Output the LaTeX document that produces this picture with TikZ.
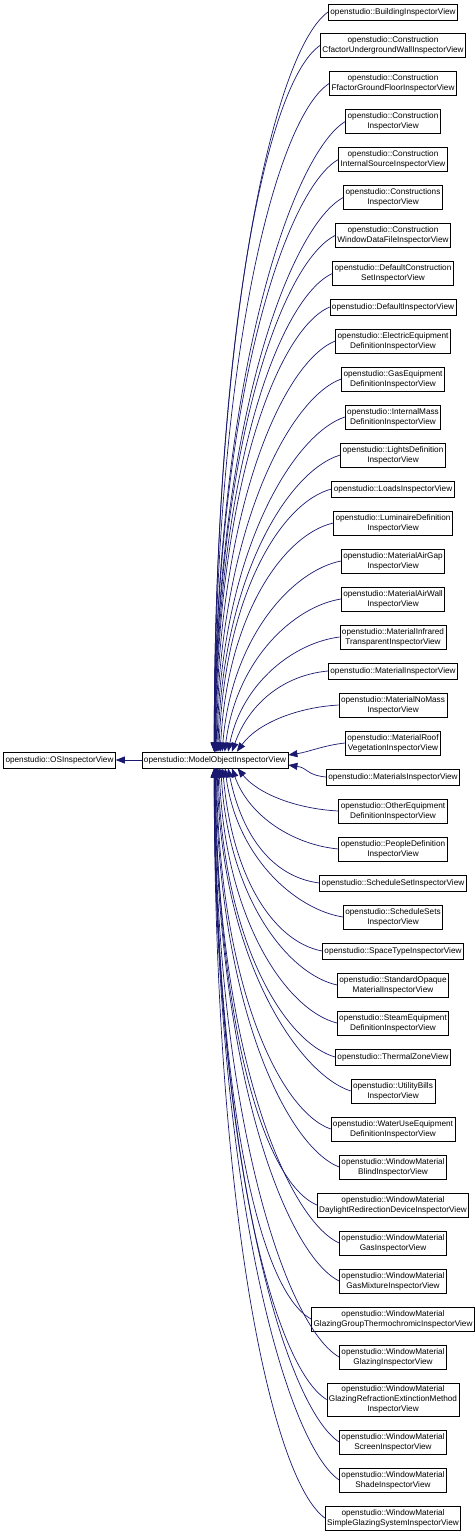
\documentclass[tikz,border=0pt]{standalone}
\usepackage{fontspec}
\setmainfont{Liberation Sans}
\usetikzlibrary{arrows.meta}
\definecolor{edgeblue}{HTML}{191970}
\begin{document}
\begin{tikzpicture}[x=1pt,y=-1pt,
  cls/.style={draw=black, line width=0.7pt, fill=white,
    font=\fontsize{8.2}{10}\selectfont, align=center,
    inner xsep=2pt, inner ysep=0pt, minimum height=16pt},
  edge/.style={draw=edgeblue, line width=0.7pt,
    -{Triangle[length=9pt,width=7pt]}}]
\useasboundingbox (0,0) rectangle (474,1531);
\node[cls] (os) at (59.5,760) {openstudio::OSInspectorView};
\node[cls] (model) at (215,760) {openstudio::ModelObjectInspectorView};
\draw[edge] (model.west) -- (os.east);
\foreach \i/\cy/\h/\txt in {
 1/12/16/{openstudio::BuildingInspectorView},
 2/45.5/24/{openstudio::Construction\\CfactorUndergroundWallInspectorView},
 3/83.5/24/{openstudio::Construction\\FfactorGroundFloorInspectorView},
 4/121.5/24/{openstudio::Construction\\InspectorView},
 5/159.5/24/{openstudio::Construction\\InternalSourceInspectorView},
 6/197.5/24/{openstudio::Constructions\\InspectorView},
 7/235.5/24/{openstudio::Construction\\WindowDataFileInspectorView},
 8/273.5/24/{openstudio::DefaultConstruction\\SetInspectorView},
 9/307/16/{openstudio::DefaultInspectorView},
 10/341/24/{openstudio::ElectricEquipment\\DefinitionInspectorView},
 11/379/24/{openstudio::GasEquipment\\DefinitionInspectorView},
 12/417/24/{openstudio::InternalMass\\DefinitionInspectorView},
 13/455/24/{openstudio::LightsDefinition\\InspectorView},
 14/489/16/{openstudio::LoadsInspectorView},
 15/523/24/{openstudio::LuminaireDefinition\\InspectorView},
 16/561/24/{openstudio::MaterialAirGap\\InspectorView},
 17/599/24/{openstudio::MaterialAirWall\\InspectorView},
 18/637/24/{openstudio::MaterialInfrared\\TransparentInspectorView},
 19/671/16/{openstudio::MaterialInspectorView},
 20/705/24/{openstudio::MaterialNoMass\\InspectorView},
 21/743/24/{openstudio::MaterialRoof\\VegetationInspectorView},
 22/777/16/{openstudio::MaterialsInspectorView},
 23/811/24/{openstudio::OtherEquipment\\DefinitionInspectorView},
 24/849/24/{openstudio::PeopleDefinition\\InspectorView},
 25/883/16/{openstudio::ScheduleSetInspectorView},
 26/917/24/{openstudio::ScheduleSets\\InspectorView},
 27/951/16/{openstudio::SpaceTypeInspectorView},
 28/985/24/{openstudio::StandardOpaque\\MaterialInspectorView},
 29/1023/24/{openstudio::SteamEquipment\\DefinitionInspectorView},
 30/1057/16/{openstudio::ThermalZoneView},
 31/1091/24/{openstudio::UtilityBills\\InspectorView},
 32/1129/24/{openstudio::WaterUseEquipment\\DefinitionInspectorView},
 33/1167/24/{openstudio::WindowMaterial\\BlindInspectorView},
 34/1205/24/{openstudio::WindowMaterial\\DaylightRedirectionDeviceInspectorView},
 35/1243/24/{openstudio::WindowMaterial\\GasInspectorView},
 36/1281/24/{openstudio::WindowMaterial\\GasMixtureInspectorView},
 37/1319/24/{openstudio::WindowMaterial\\GlazingGroupThermochromicInspectorView},
 38/1357/24/{openstudio::WindowMaterial\\GlazingInspectorView},
 39/1399.5/33/{openstudio::WindowMaterial\\GlazingRefractionExtinctionMethod\\InspectorView},
 40/1442/24/{openstudio::WindowMaterial\\ScreenInspectorView},
 41/1480/24/{openstudio::WindowMaterial\\ShadeInspectorView},
 42/1518/24/{openstudio::WindowMaterial\\SimpleGlazingSystemInspectorView}%
}{
  \node[cls, minimum height=\h pt] (c\i) at (393,\cy) {\txt};
  \ifnum\i<21
    \pgfmathsetmacro\dy{752-\cy}
    \pgfmathsetmacro\xe{214+32*exp(-\dy/140)}
    \pgfmathsetmacro\dx{330-\xe}
    \pgfmathsetmacro\ax{-0.45*\dx}
    \pgfmathsetmacro\ay{0.05*\dy}
    \pgfmathsetmacro\bx{0.3*\dx*exp(-\dy/150)}
    \pgfmathsetmacro\by{-0.6*\dy}
    \pgfmathsetmacro\sh{\xe-215}
    \draw[edge] (c\i.west) .. controls +(\ax,\ay) and +(\bx,\by) .. ([xshift=\sh pt]model.north);
  \fi
  \ifnum\i>22
    \pgfmathsetmacro\dy{\cy-768}
    \pgfmathsetmacro\xe{214+32*exp(-\dy/140)}
    \pgfmathsetmacro\dx{330-\xe}
    \pgfmathsetmacro\ax{-0.45*\dx}
    \pgfmathsetmacro\ay{-0.05*\dy}
    \pgfmathsetmacro\bx{0.3*\dx*exp(-\dy/150)}
    \pgfmathsetmacro\by{0.6*\dy}
    \pgfmathsetmacro\sh{\xe-215}
    \draw[edge] (c\i.west) .. controls +(\ax,\ay) and +(\bx,\by) .. ([xshift=\sh pt]model.south);
  \fi
  \ifnum\i=21
    \draw[edge] (c21.west) .. controls +(-20,2) and +(20,-3) .. ([yshift=5pt]model.east);
  \fi
  \ifnum\i=22
    \draw[edge] (c22.west) .. controls +(-20,-2) and +(20,3) .. ([yshift=-5pt]model.east);
  \fi
}
\end{tikzpicture}
\end{document}
